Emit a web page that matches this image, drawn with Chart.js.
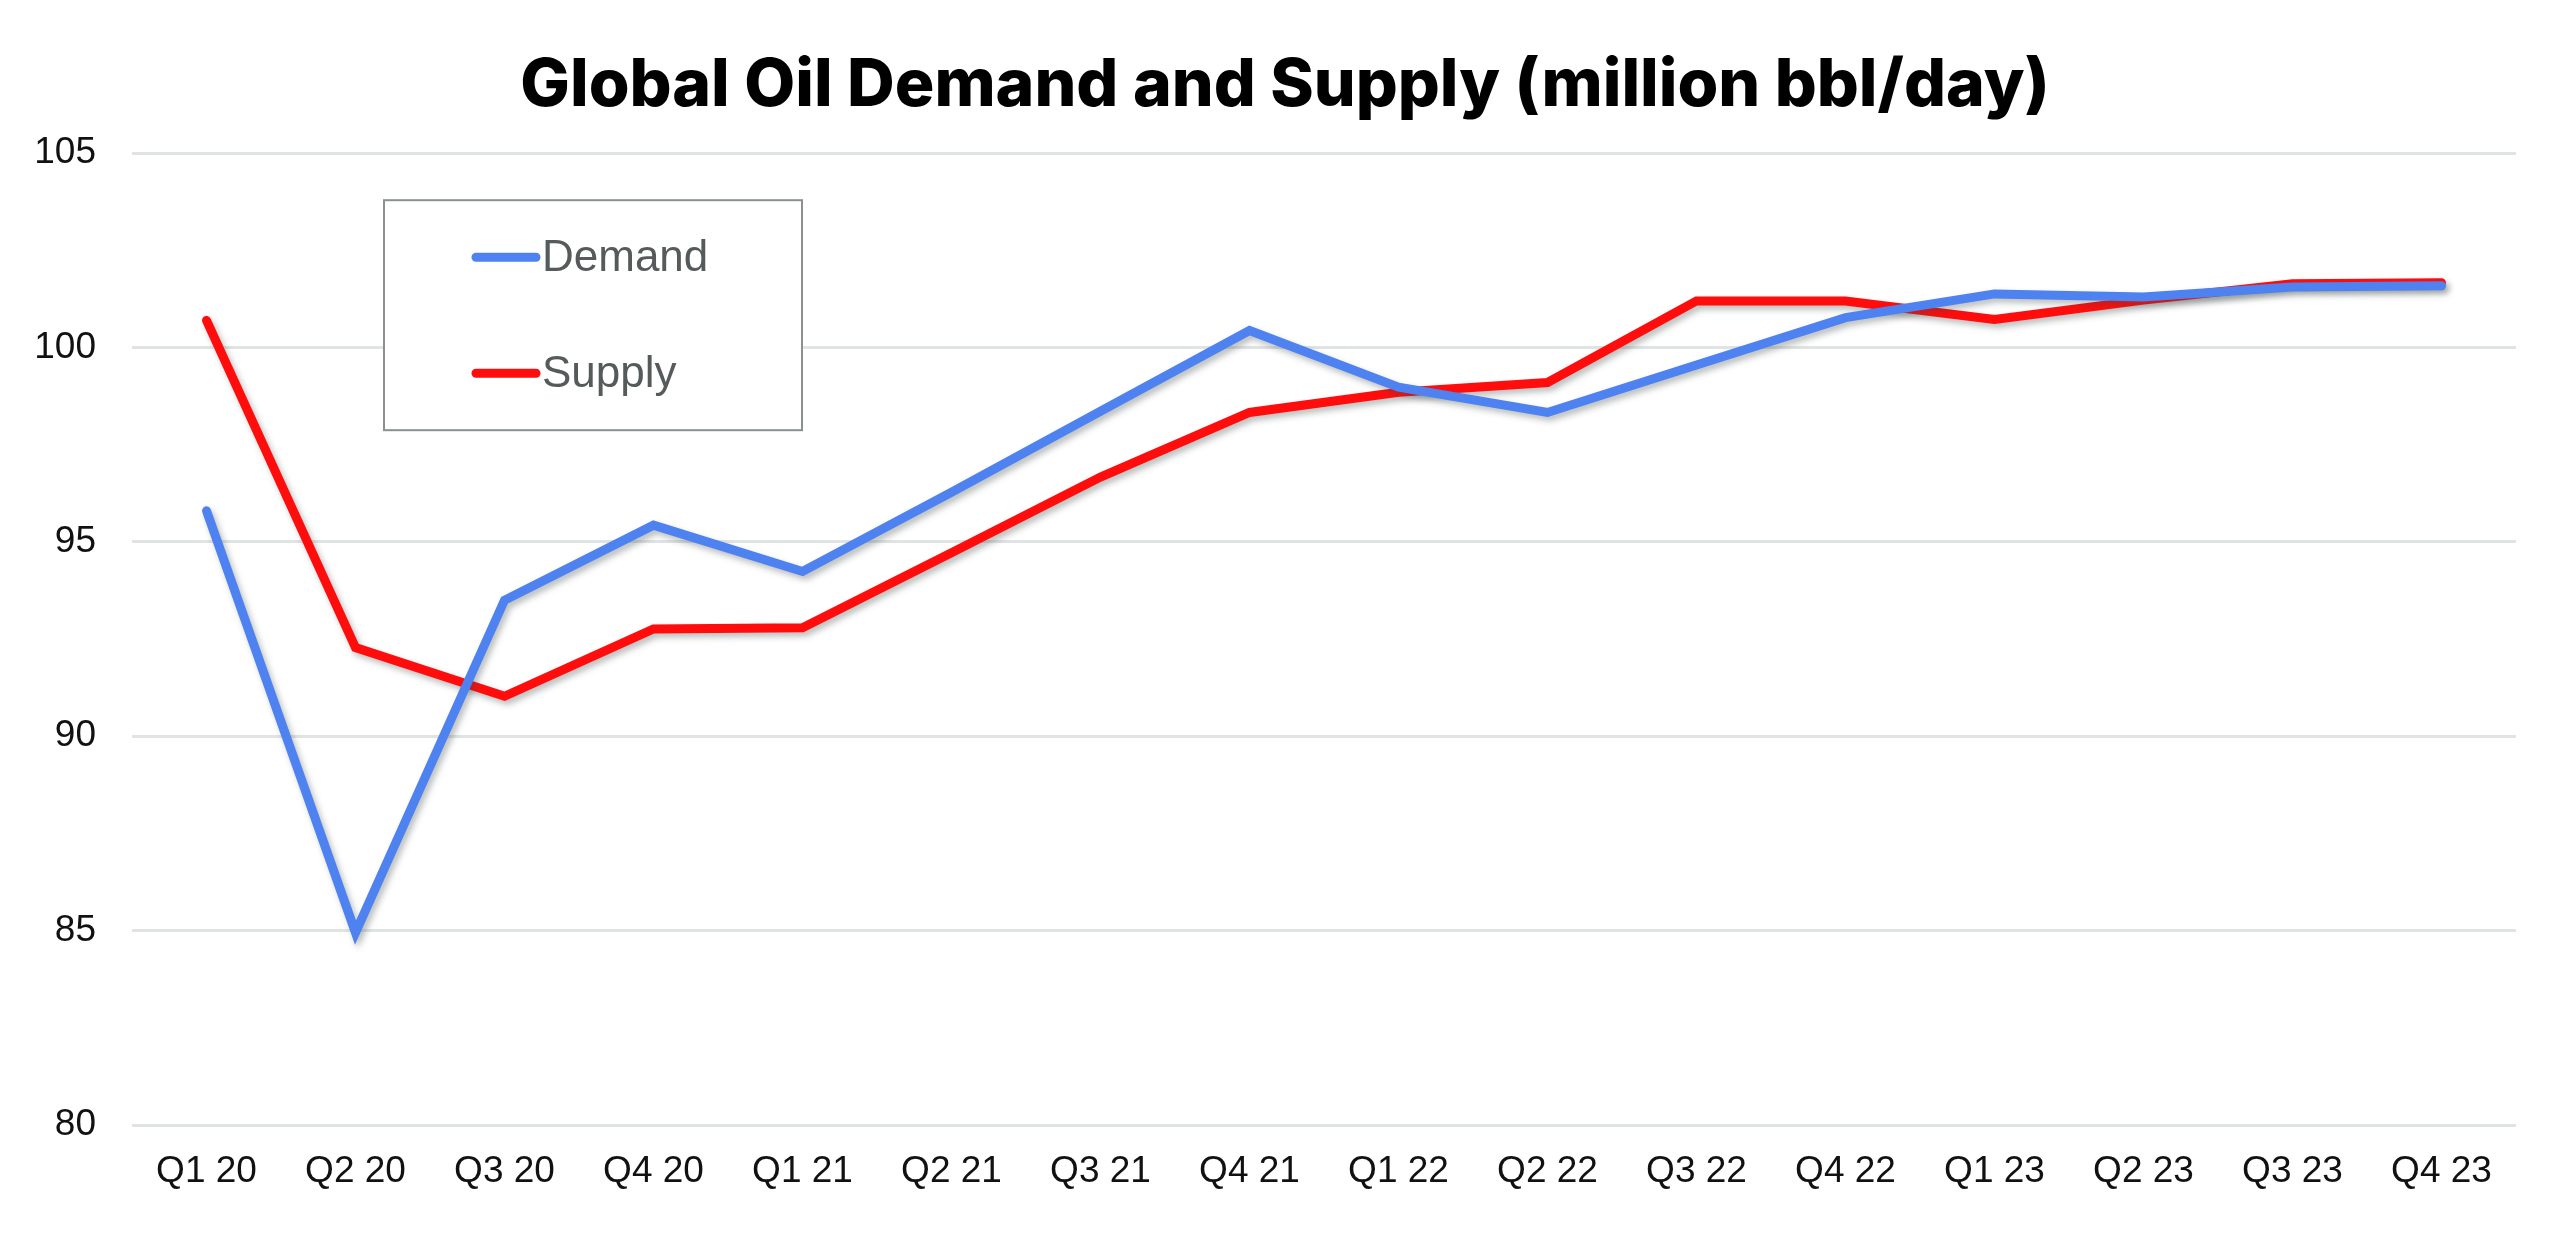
<!DOCTYPE html>
<html>
<head>
<meta charset="utf-8">
<script src="https://cdn.jsdelivr.net/npm/chart.js@4"></script>
<style>
  html, body { margin: 0; padding: 0; background: #ffffff; }
  #wrap { width: 2560px; height: 1238px; }
</style>
</head>
<body>
<div id="wrap"><canvas id="oilChart"></canvas></div>
<script>
const quarters = ['Q1 20', 'Q2 20', 'Q3 20', 'Q4 20', 'Q1 21', 'Q2 21', 'Q3 21', 'Q4 21',
                  'Q1 22', 'Q2 22', 'Q3 22', 'Q4 22', 'Q1 23', 'Q2 23', 'Q3 23', 'Q4 23'];
const demand = [95.8, 84.95, 93.5, 95.43, 94.24, 96.28, 98.36, 100.44,
                98.98, 98.33, 99.55, 100.77, 101.38, 101.3, 101.56, 101.59];
const supply = [100.7, 92.28, 91.03, 92.76, 92.79, 94.72, 96.67, 98.33,
                98.85, 99.1, 101.2, 101.2, 100.72, 101.22, 101.64, 101.67];
const yTicks = [80, 85, 90, 95, 100, 105];

// soft drop shadow under the lines
const lineShadow = {
    id: 'lineShadow',
    beforeDatasetDraw(chart) {
        const c = chart.ctx;
        c.save();
        c.shadowColor = 'rgba(60, 70, 70, 0.35)';
        c.shadowBlur = 6;
        c.shadowOffsetX = 3;
        c.shadowOffsetY = 4;
    },
    afterDatasetDraw(chart) {
        chart.ctx.restore();
    }
};

// nudge the title so it is centred a bit to the right, like the original
const titleNudge = {
    id: 'titleNudge',
    afterLayout(chart) {
        if (chart.titleBlock) chart.titleBlock.left += 54;
    }
};

// boxed legend sitting inside the plot
const boxLegend = {
    id: 'boxLegend',
    afterDraw(chart) {
        const c = chart.ctx;
        const area = chart.chartArea;
        const x = area.left + 252, y = area.top + 47, w = 418, h = 230;
        c.save();
        c.fillStyle = '#ffffff';
        c.fillRect(x, y, w, h);
        c.strokeStyle = '#8a8f8f';
        c.lineWidth = 2;
        c.strokeRect(x, y, w, h);
        c.font = '44px "Liberation Sans", Arial, sans-serif';
        c.textBaseline = 'middle';
        chart.data.datasets.forEach((ds, i) => {
            const ly = y + 57 + i * 116;
            c.strokeStyle = ds.borderColor;
            c.lineWidth = 9;
            c.lineCap = 'round';
            c.beginPath();
            c.moveTo(x + 92, ly);
            c.lineTo(x + 152, ly);
            c.stroke();
            c.fillStyle = '#555b5b';
            c.fillText(ds.label, x + 158, ly + 2);
        });
        c.restore();
    }
};

const ctx = document.getElementById('oilChart').getContext('2d');

new Chart(ctx, {
    type: 'line',
    data: {
        labels: quarters,
        datasets: [{
            label: 'Demand',
            data: demand,
            borderColor: '#4d82f0',
            backgroundColor: 'transparent',
            borderWidth: 9,
            pointRadius: 0,
            borderCapStyle: 'round',
            tension: 0
        }, {
            label: 'Supply',
            data: supply,
            borderColor: '#ff0d0d',
            backgroundColor: 'transparent',
            borderWidth: 9,
            pointRadius: 0,
            borderCapStyle: 'round',
            tension: 0
        }]
    },
    options: {
        responsive: true,
        maintainAspectRatio: false,
        animation: false,
        layout: { padding: { left: 0, right: 44, top: 0, bottom: 0 } },
        plugins: {
            legend: { display: false },
            tooltip: { enabled: false },
            title: {
                display: true,
                text: 'Global Oil Demand and Supply (million bbl/day)',
                color: '#000000',
                font: { family: 'Inter, "Open Sans", sans-serif', size: 66, weight: '800' },
                padding: { top: 47, bottom: 27 }
            }
        },
        scales: {
            x: {
                offset: true,
                grid: { display: false, drawTicks: false },
                border: { display: false },
                ticks: {
                    color: '#111111',
                    font: { family: '"Liberation Sans", Arial, sans-serif', size: 37 },
                    padding: 25,
                    maxRotation: 0,
                    autoSkip: false
                },
                afterFit(scale) { scale.height = 113; }
            },
            y: {
                min: yTicks[0],
                max: yTicks[yTicks.length - 1],
                afterBuildTicks(scale) {
                    scale.ticks = yTicks.map(v => ({ value: v }));
                },
                grid: { color: '#e1e4e4', lineWidth: 3, drawTicks: false },
                border: { display: false },
                ticks: {
                    color: '#111111',
                    font: { family: '"Liberation Sans", Arial, sans-serif', size: 37 },
                    padding: 36
                },
                afterFit(scale) { scale.width = 132; }
            }
        }
    },
    plugins: [lineShadow, titleNudge, boxLegend]
});
</script>
</body>
</html>
